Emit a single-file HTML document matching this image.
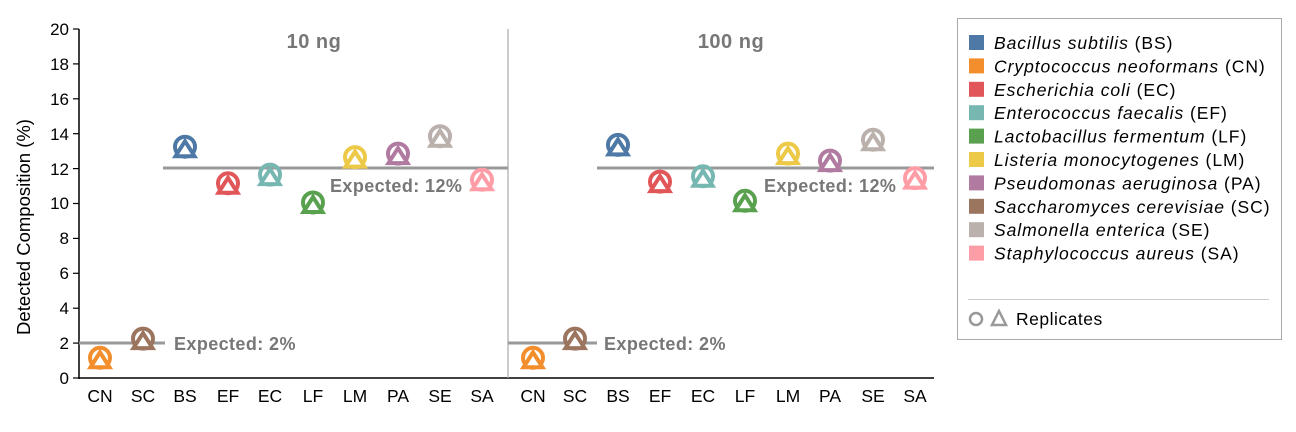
<!DOCTYPE html>
<html><head><meta charset="utf-8"><style>
body{margin:0;background:#fff}
svg{display:block;font-family:"Liberation Sans",Arial,sans-serif}
</style></head><body>
<svg width="1296" height="432" viewBox="0 0 1296 432" xmlns="http://www.w3.org/2000/svg">
<defs>
<g id="m"><circle r="10" cy="-1" fill="none" stroke-width="4"/><polygon points="0,-6.5 9.5,8.5 -9.5,8.5" fill="#fff" stroke-width="4" stroke-linejoin="miter"/></g>
</defs>
<line x1="79" y1="29" x2="79" y2="379" stroke="#000" stroke-width="1.5"/>
<line x1="78" y1="378" x2="934" y2="378" stroke="#000" stroke-width="1.5"/>
<line x1="508" y1="29" x2="508" y2="378" stroke="#aaa" stroke-width="1.2"/>
<g stroke="#000" stroke-width="1.2">
<line x1="73" x2="79" y1="378" y2="378"/><line x1="73" x2="79" y1="343.1" y2="343.1"/><line x1="73" x2="79" y1="308.2" y2="308.2"/><line x1="73" x2="79" y1="273.3" y2="273.3"/><line x1="73" x2="79" y1="238.4" y2="238.4"/><line x1="73" x2="79" y1="203.5" y2="203.5"/><line x1="73" x2="79" y1="168.6" y2="168.6"/><line x1="73" x2="79" y1="133.7" y2="133.7"/><line x1="73" x2="79" y1="98.8" y2="98.8"/><line x1="73" x2="79" y1="63.9" y2="63.9"/><line x1="73" x2="79" y1="29" y2="29"/>
</g>
<g font-size="17" text-anchor="end" fill="#000">
<text x="69" y="384">0</text><text x="69" y="349">2</text><text x="69" y="314">4</text><text x="69" y="279">6</text><text x="69" y="244">8</text><text x="69" y="209">10</text><text x="69" y="175">12</text><text x="69" y="140">14</text><text x="69" y="105">16</text><text x="69" y="70">18</text><text x="69" y="35">20</text>
</g>
<text transform="translate(30,227) rotate(-90)" font-size="18.5" text-anchor="middle">Detected Composition (%)</text>
<g font-size="17.5" text-anchor="middle">
<text x="100" y="402">CN</text><text x="143" y="402">SC</text><text x="185" y="402">BS</text><text x="228" y="402">EF</text><text x="270" y="402">EC</text><text x="313" y="402">LF</text><text x="355" y="402">LM</text><text x="398" y="402">PA</text><text x="440" y="402">SE</text><text x="482" y="402">SA</text>
<text x="533" y="402">CN</text><text x="575" y="402">SC</text><text x="618" y="402">BS</text><text x="660" y="402">EF</text><text x="703" y="402">EC</text><text x="745" y="402">LF</text><text x="788" y="402">LM</text><text x="830" y="402">PA</text><text x="873" y="402">SE</text><text x="915" y="402">SA</text>
</g>
<g font-size="20" font-weight="bold" fill="#777" text-anchor="middle" letter-spacing="0.5">
<text x="314" y="48">10 ng</text><text x="731" y="48">100 ng</text>
</g>
<g stroke="#999" stroke-width="3">
<line x1="163" y1="168" x2="508" y2="168"/><line x1="597" y1="168" x2="934" y2="168"/>
<line x1="79" y1="343" x2="165" y2="343"/><line x1="508" y1="343" x2="597" y2="343"/>
</g>
<g font-size="18" font-weight="bold" fill="#777" letter-spacing="0.4">
<text x="330" y="192">Expected: 12%</text><text x="764" y="192">Expected: 12%</text>
<text x="174" y="350">Expected: 2%</text><text x="604" y="350">Expected: 2%</text>
</g>
<use href="#m" x="100" y="358.8" stroke="#f28e2b"/>
<use href="#m" x="143" y="339.6" stroke="#9c755f"/>
<use href="#m" x="185" y="147.7" stroke="#4e79a7"/>
<use href="#m" x="228" y="184.3" stroke="#e15759"/>
<use href="#m" x="270" y="175.6" stroke="#76b7b2"/>
<use href="#m" x="313" y="203.5" stroke="#59a14f"/>
<use href="#m" x="355" y="158.1" stroke="#edc948"/>
<use href="#m" x="398" y="154.6" stroke="#b07aa1"/>
<use href="#m" x="440" y="137.2" stroke="#bab0ac"/>
<use href="#m" x="482" y="180.8" stroke="#ff9da7"/>
<use href="#m" x="533" y="358.8" stroke="#f28e2b"/>
<use href="#m" x="575" y="339.6" stroke="#9c755f"/>
<use href="#m" x="618" y="145.9" stroke="#4e79a7"/>
<use href="#m" x="660" y="182.6" stroke="#e15759"/>
<use href="#m" x="703" y="177.3" stroke="#76b7b2"/>
<use href="#m" x="745" y="201.8" stroke="#59a14f"/>
<use href="#m" x="788" y="154.6" stroke="#edc948"/>
<use href="#m" x="830" y="161.6" stroke="#b07aa1"/>
<use href="#m" x="873" y="140.7" stroke="#bab0ac"/>
<use href="#m" x="915" y="179.1" stroke="#ff9da7"/>
<rect x="957.5" y="18.5" width="324" height="321" fill="#fff" stroke="#aaa" stroke-width="1"/>
<g>
<rect x="969" y="35" width="15" height="15" fill="#4e79a7"/>
<rect x="969" y="58.4" width="15" height="15" fill="#f28e2b"/>
<rect x="969" y="81.8" width="15" height="15" fill="#e15759"/>
<rect x="969" y="105.2" width="15" height="15" fill="#76b7b2"/>
<rect x="969" y="128.6" width="15" height="15" fill="#59a14f"/>
<rect x="969" y="152" width="15" height="15" fill="#edc948"/>
<rect x="969" y="175.4" width="15" height="15" fill="#b07aa1"/>
<rect x="969" y="198.8" width="15" height="15" fill="#9c755f"/>
<rect x="969" y="222.2" width="15" height="15" fill="#bab0ac"/>
<rect x="969" y="245.6" width="15" height="15" fill="#ff9da7"/>
</g>
<g font-size="17.5" fill="#000" letter-spacing="0.95">
<text x="994" y="49"><tspan font-style="italic">Bacillus subtilis</tspan> (BS)</text>
<text x="994" y="72.4"><tspan font-style="italic">Cryptococcus neoformans</tspan> (CN)</text>
<text x="994" y="95.8"><tspan font-style="italic">Escherichia coli</tspan> (EC)</text>
<text x="994" y="119.2"><tspan font-style="italic">Enterococcus faecalis</tspan> (EF)</text>
<text x="994" y="142.6"><tspan font-style="italic">Lactobacillus fermentum</tspan> (LF)</text>
<text x="994" y="166"><tspan font-style="italic">Listeria monocytogenes</tspan> (LM)</text>
<text x="994" y="189.4"><tspan font-style="italic">Pseudomonas aeruginosa</tspan> (PA)</text>
<text x="994" y="212.8"><tspan font-style="italic">Saccharomyces cerevisiae</tspan> (SC)</text>
<text x="994" y="236.2"><tspan font-style="italic">Salmonella enterica</tspan> (SE)</text>
<text x="994" y="259.6"><tspan font-style="italic">Staphylococcus aureus</tspan> (SA)</text>
</g>
<text x="1016" y="325" font-size="17.5" letter-spacing="0.5">Replicates</text>
<line x1="968" y1="299.5" x2="1269" y2="299.5" stroke="#ccc" stroke-width="1"/>
<circle cx="976" cy="319" r="6" fill="none" stroke="#999" stroke-width="2.5"/>
<polygon points="999,311 1006,325 992,325" fill="#fff" stroke="#999" stroke-width="2.5"/>
</svg>
</body></html>
